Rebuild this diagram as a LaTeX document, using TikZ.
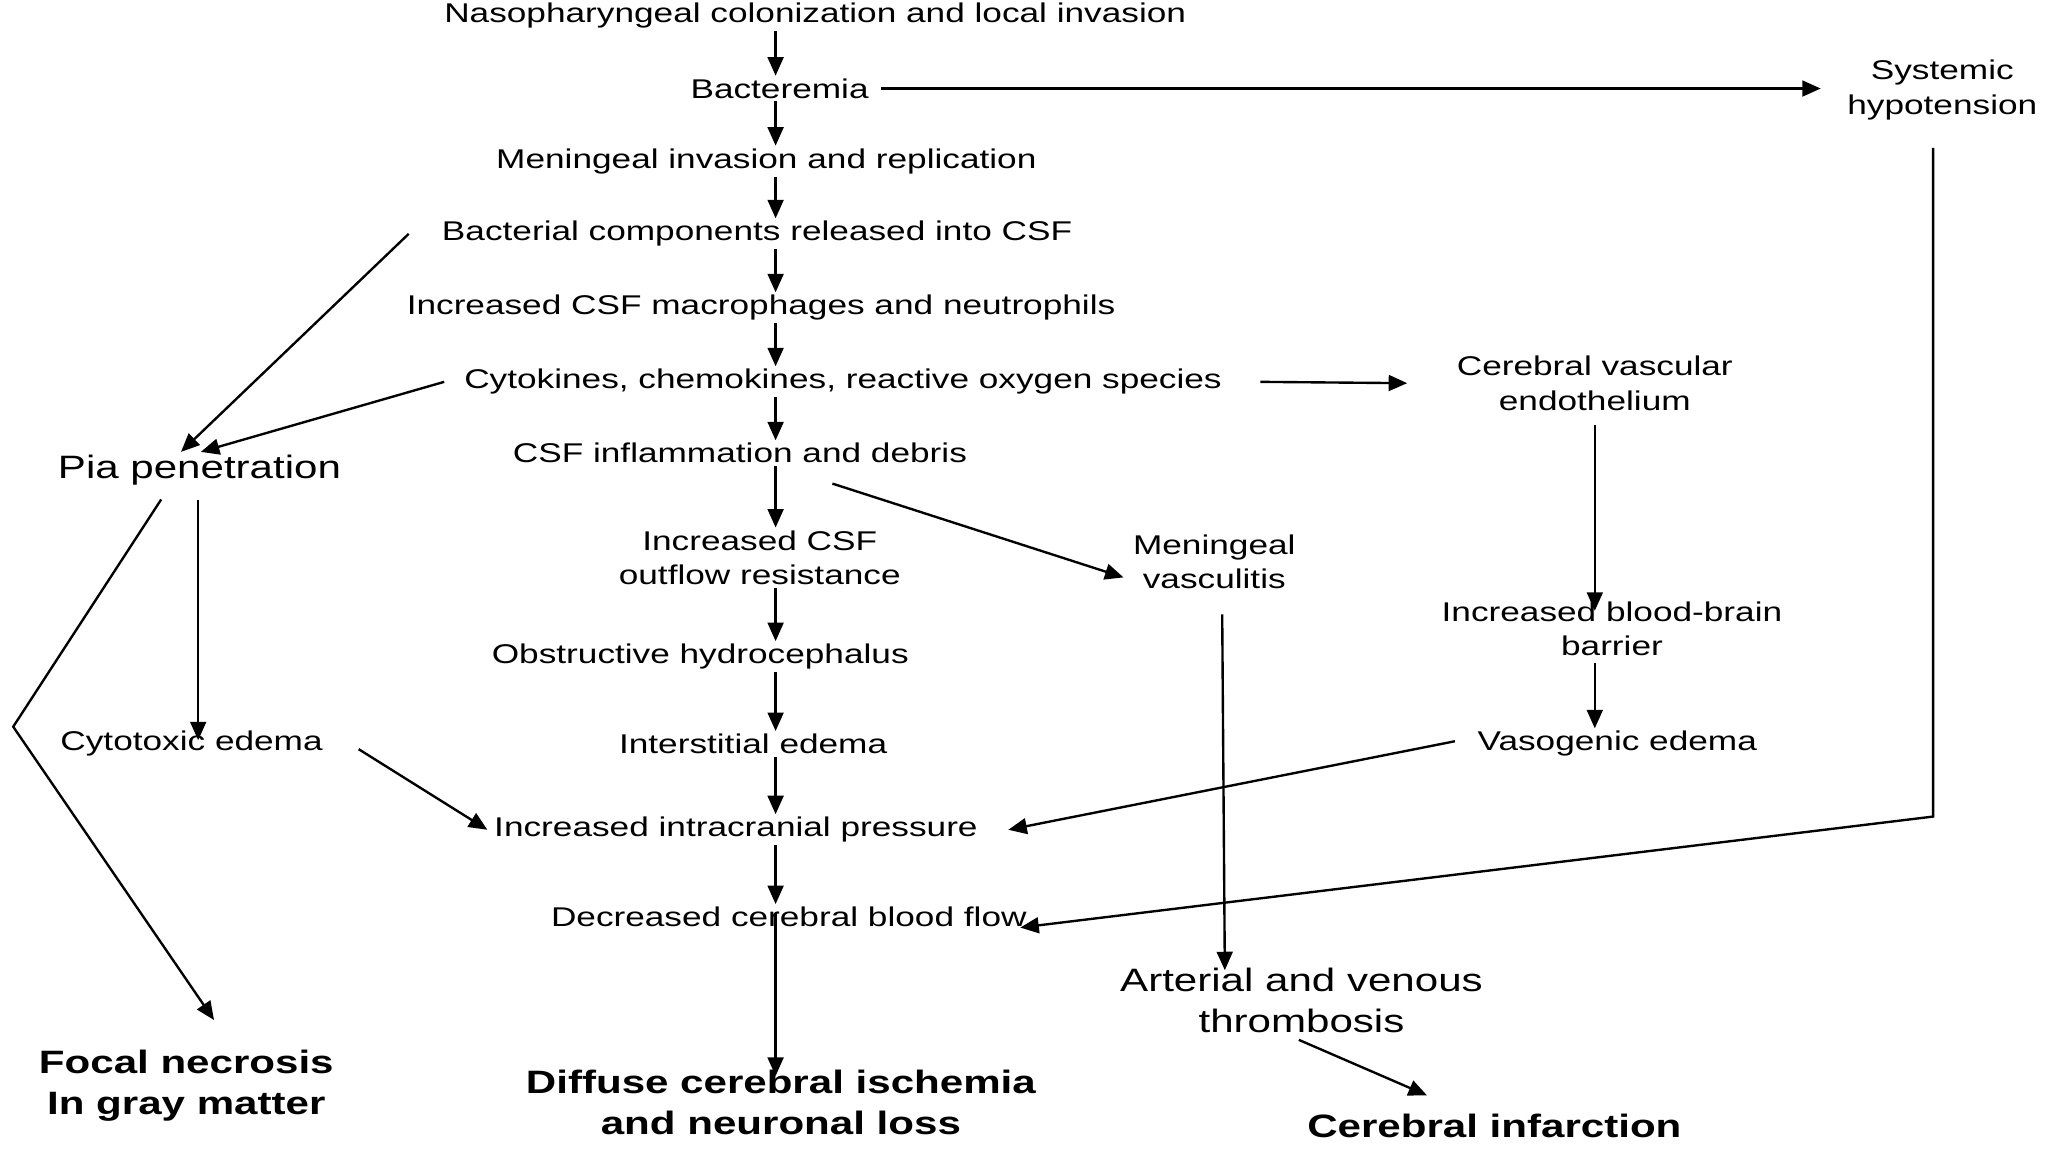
\documentclass[tikz,border=0pt]{standalone}
\usepackage{fontspec}
\setmainfont{Liberation Sans}[FakeStretch=1.3]
\usetikzlibrary{arrows.meta}
\begin{document}
\begin{tikzpicture}[x=1pt,y=-1pt,
 t/.style={font=\fontsize{20.5}{26}\selectfont,align=center,inner sep=1pt},
 tl/.style={font=\fontsize{24.5}{31}\selectfont,align=center,inner sep=1pt},
 tb/.style={font=\fontsize{24.5}{31}\selectfont\bfseries,align=center,inner sep=1pt},
 arr/.style={-{Triangle[length=14pt,width=12pt]},line width=1.8pt}]
\useasboundingbox (0,0) rectangle (1550,872);
\node[t] (n1) at (617,12) {Nasopharyngeal colonization and local invasion};
\node[t] (n2) at (590,67) {Bacteremia};
\node[t] (n3) at (580,122) {Meningeal invasion and replication};
\node[t] (n4) at (573,177) {Bacterial components released into CSF};
\node[t] (n5) at (576,233) {Increased CSF macrophages and neutrophils};
\node[t] (n6) at (638,289) {Cytokines, chemokines, reactive oxygen species};
\node[t] (n7) at (560,343) {CSF inflammation and debris};
\node[t] (n8) at (575,422) {Increased CSF\\outflow resistance};
\node[t] (n9) at (530,497) {Obstructive hydrocephalus};
\node[t] (n10) at (570,563) {Interstitial edema};
\node[t] (n11) at (557,628) {Increased intracranial pressure};
\node[t] (n12) at (597,694) {Decreased cerebral blood flow};
\node[tb] (n13) at (591,834) {Diffuse cerebral ischemia\\and neuronal loss};
\node[t] (sh) at (1470,68) {Systemic\\hypotension};
\node[t] (cve) at (1207,290) {Cerebral vascular\\endothelium};
\node[t] (mv) at (919,425) {Meningeal\\vasculitis};
\node[t] (bbb) at (1220,476) {Increased blood-brain\\barrier};
\node[t] (ve) at (1224,563) {Vasogenic edema};
\node[tl] (avt) at (985,757) {Arterial and venous\\thrombosis};
\node[tb] (ci) at (1131,852) {Cerebral infarction};
\node[tl] (pia) at (151,356) {Pia penetration};
\node[t] (ce) at (145,563) {Cytotoxic edema};
\node[tb] (fn) at (141,822) {Focal necrosis\\In gray matter};
\foreach \a/\b in {n1/n2,n2/n3,n3/n4,n4/n5,n5/n6,n6/n7,n7/n8,n8/n9,n9/n10,n10/n11,n11/n12}
  \draw[arr] ([yshift=-1pt]\a.south -| 587,0) -- ([yshift=1pt]\b.north -| 587,0);
\draw[arr] ([yshift=12pt]n12.south -| 587,0) -- ([yshift=-6pt]n13.north -| 587,0);
\draw[arr] ([xshift=8pt]n2.east) -- (1378,67) coordinate (shin);
\coordinate (s0) at (1463,112);
\coordinate (c1) at (1463,618);
\draw[arr] (s0) -- (c1) -- ([xshift=-6pt,yshift=-8pt]n12.east);
\draw[arr] ([xshift=-24pt]n4.west) -- (137,342) coordinate (p1);
\draw[arr] ([xshift=-14pt]n6.west) -- (152,342) coordinate (p2);
\draw[arr] ([xshift=28pt]n6.east) -- (1065,290) coordinate (p3);
\draw[arr] (1207,322) coordinate (q1) -- ([yshift=-8pt]bbb.north -| 1207,0);
\draw[arr] ([yshift=-4pt]bbb.south -| 1207,0) -- ([yshift=1pt]ve.north -| 1207,0);
\draw[arr] ([xshift=-16pt,yshift=2pt]ve.west) -- ([xshift=22pt]n11.east);
\draw[arr] (630,366) coordinate (m0) -- ([xshift=-6pt,yshift=-12pt]mv.west);
\draw[arr] (925,465) coordinate (m1) -- ([yshift=-3pt]avt.north -| 927,0);
\draw[arr] (983,787) coordinate (a1) -- (1080,829) coordinate (a2);
\draw[arr] ([yshift=-10pt]pia.south -| 150,0) -- ([yshift=-8pt]ce.north -| 150,0);
\draw[arr] ([xshift=26pt,yshift=-4pt]ce.east) -- ([xshift=-4pt]n11.west);
\coordinate (k) at (10,550);
\draw[arr] (122,378) coordinate (k0) -- (k) -- (162,772) coordinate (k1);
\end{tikzpicture}
\end{document}
